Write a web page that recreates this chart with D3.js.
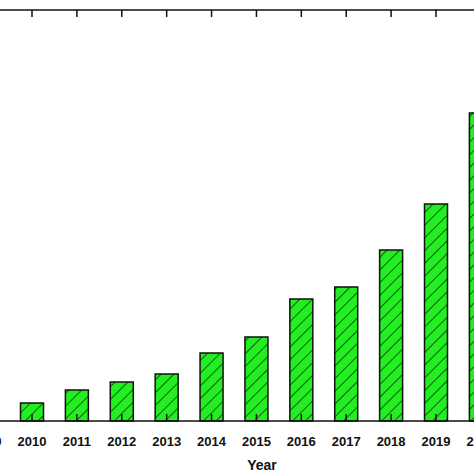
<!DOCTYPE html>
<html><head><meta charset="utf-8">
<script src="https://cdn.jsdelivr.net/npm/d3@7"></script>
<style>body{margin:0;background:#fff}</style>
</head><body>
<svg id="chart" width="474" height="474"></svg>
<script>
var years = [2009, 2010, 2011, 2012, 2013, 2014, 2015, 2016, 2017, 2018, 2019, 2020];
var counts = [0, 18, 31, 39, 47, 68, 84, 122, 134, 171, 217, 308];

var svg = d3.select('#chart');
var plotTop = 10, plotBottom = 421;

var x = d3.scaleLinear().domain([2010, 2019]).range([32, 436]);
var y = d3.scaleLinear().domain([0, 411]).range([plotBottom, plotTop]);

var defs = svg.append('defs');
var pat = defs.append('pattern')
    .attr('id', 'hatch')
    .attr('width', 9).attr('height', 9)
    .attr('patternUnits', 'userSpaceOnUse')
    .attr('patternTransform', 'rotate(45)');
pat.append('rect').attr('width', 9).attr('height', 9).attr('fill', '#22ee22');
pat.append('line').attr('x1', 0).attr('y1', 0).attr('x2', 0).attr('y2', 9)
    .attr('stroke', '#000').attr('stroke-width', 1.2);

var bw = 23;
svg.selectAll('rect.bar')
    .data(years.map(function(d, i){ return {year: d, v: counts[i]}; }).filter(function(d){ return d.v > 0; }))
    .enter().append('rect')
    .attr('class', 'bar')
    .attr('x', function(d){ return x(d.year) - bw/2; })
    .attr('y', function(d){ return y(d.v); })
    .attr('width', bw)
    .attr('height', function(d){ return y(0) - y(d.v); })
    .attr('fill', 'url(#hatch)')
    .attr('stroke', '#111')
    .attr('stroke-width', 1.5);

// frame lines
svg.append('line').attr('x1', 0).attr('x2', 474).attr('y1', plotBottom).attr('y2', plotBottom)
    .attr('stroke', '#111').attr('stroke-width', 1.5);
svg.append('line').attr('x1', 0).attr('x2', 474).attr('y1', plotTop).attr('y2', plotTop)
    .attr('stroke', '#111').attr('stroke-width', 1.5);

// ticks
svg.selectAll('line.bt').data(years).enter().append('line')
    .attr('x1', function(d){ return x(d); }).attr('x2', function(d){ return x(d); })
    .attr('y1', plotBottom).attr('y2', plotBottom - 7)
    .attr('stroke', '#111').attr('stroke-width', 1.5);
svg.selectAll('line.tt').data(years).enter().append('line')
    .attr('x1', function(d){ return x(d); }).attr('x2', function(d){ return x(d); })
    .attr('y1', plotTop).attr('y2', plotTop + 7)
    .attr('stroke', '#111').attr('stroke-width', 1.5);

svg.selectAll('text.tl').data(years).enter().append('text')
    .attr('x', function(d){ return x(d); })
    .attr('y', 446)
    .attr('text-anchor', 'middle')
    .attr('font-family', 'Liberation Sans, Arial, sans-serif')
    .attr('font-weight', 'bold')
    .attr('font-size', 13)
    .attr('fill', '#111')
    .text(function(d){ return d; });

svg.append('text')
    .attr('x', 262).attr('y', 470)
    .attr('text-anchor', 'middle')
    .attr('font-family', 'Liberation Sans, Arial, sans-serif')
    .attr('font-weight', 'bold')
    .attr('font-size', 14)
    .attr('fill', '#111')
    .text('Year');
</script>
</body></html>
